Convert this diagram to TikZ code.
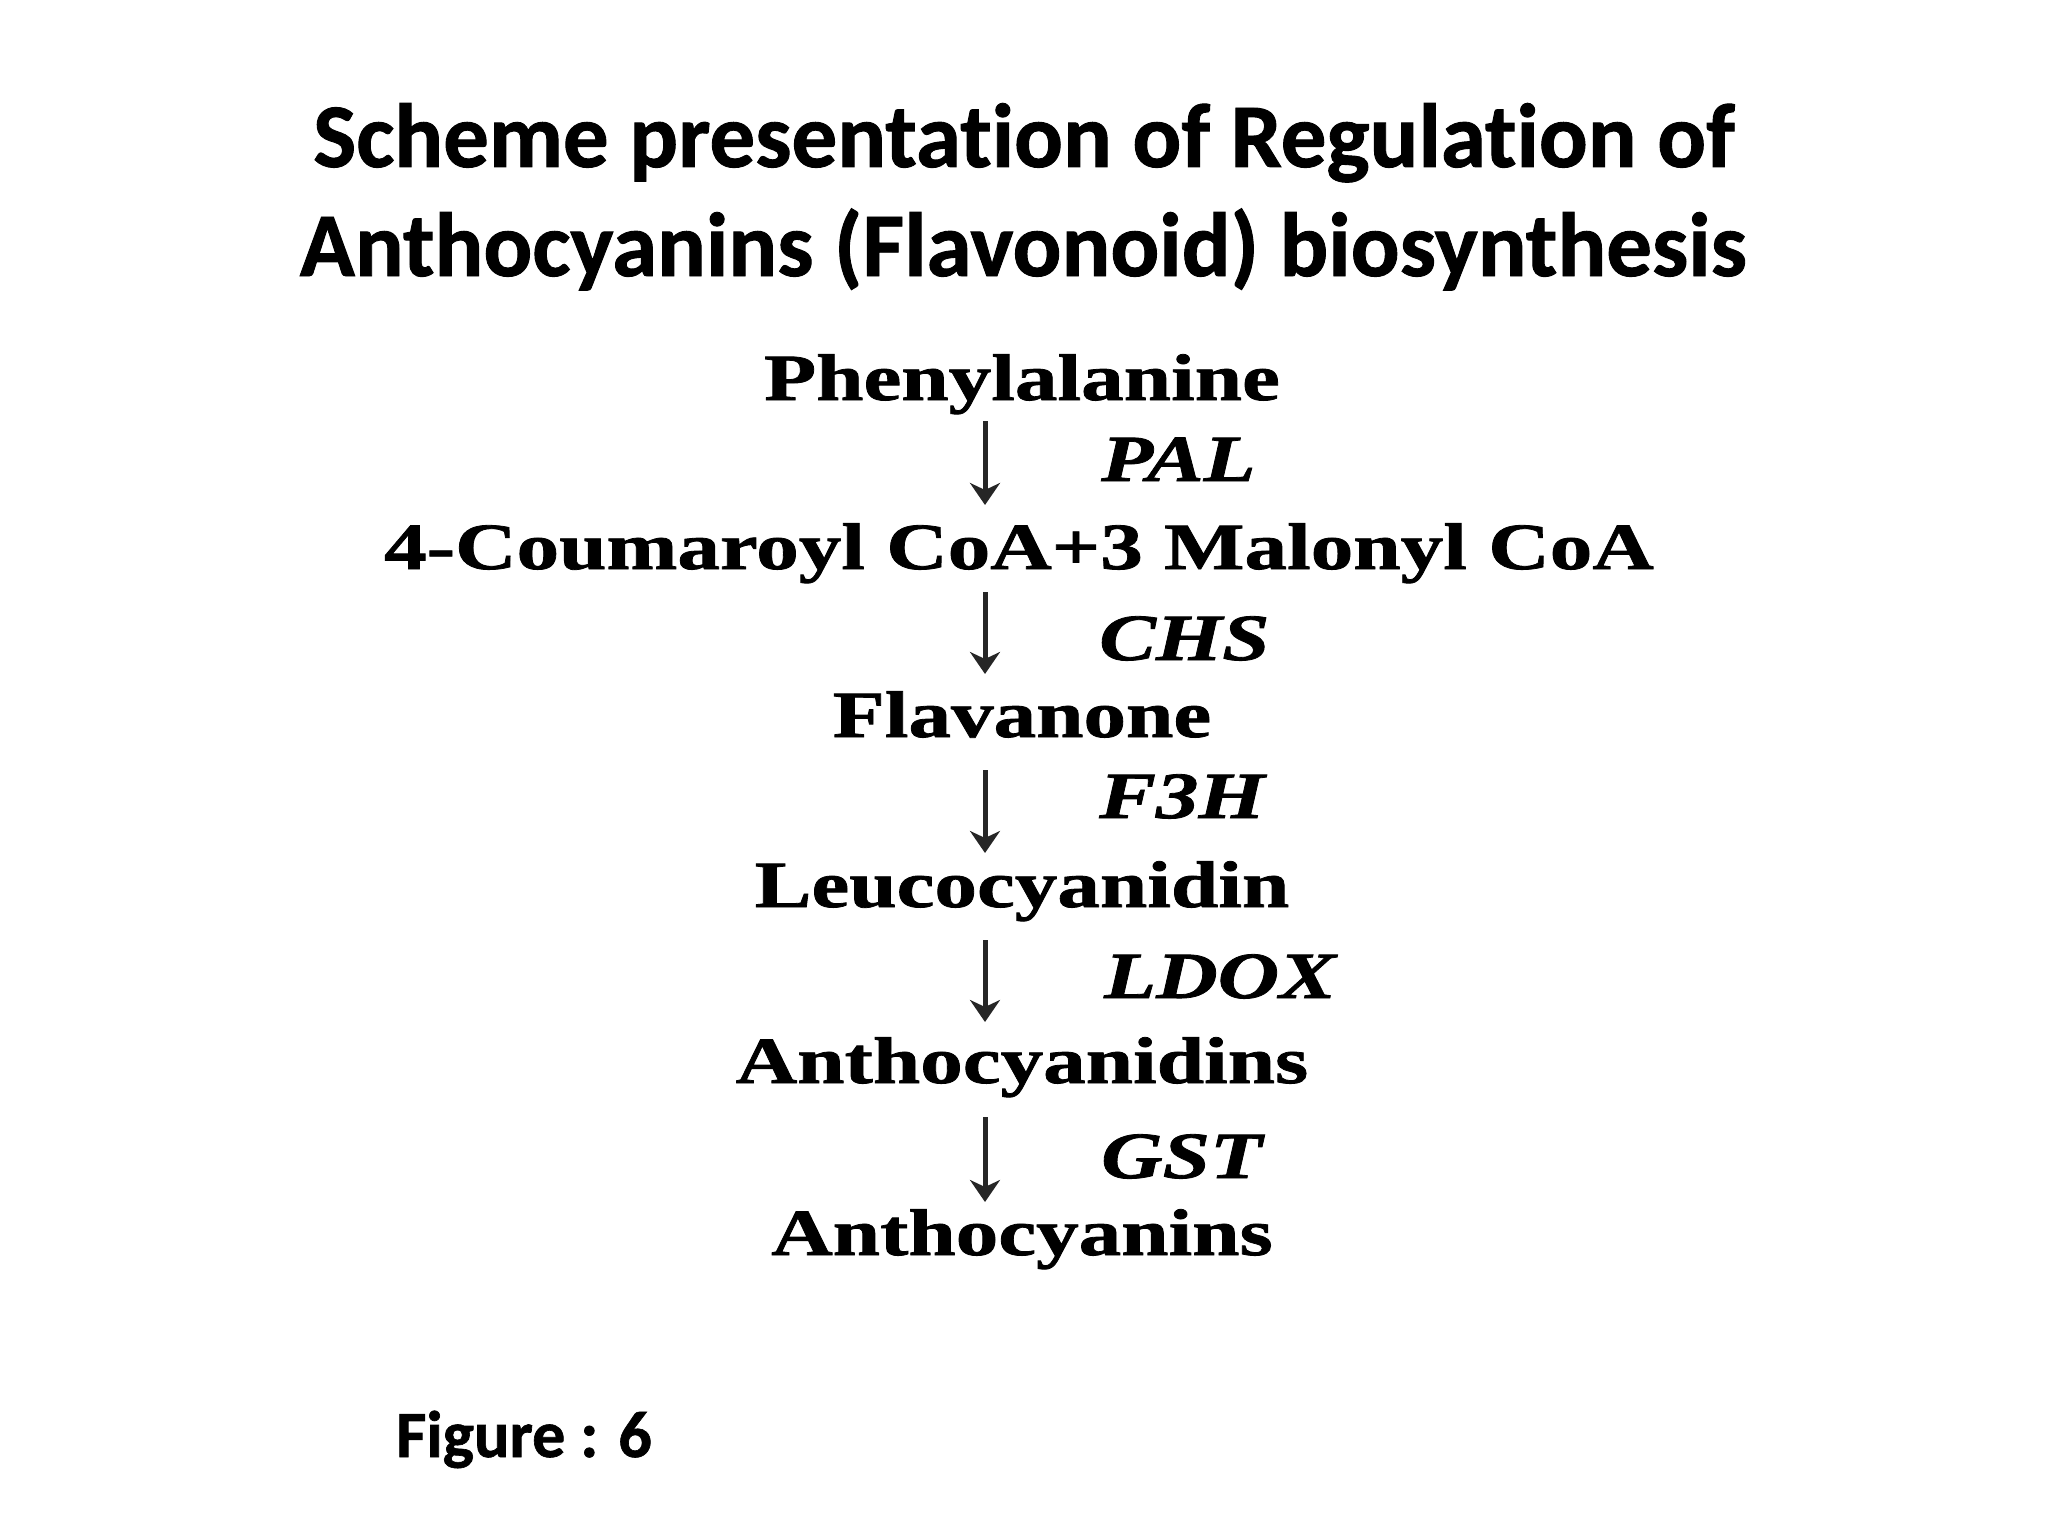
\documentclass[tikz,border=0pt]{standalone}
\usepackage{fontspec}
\usetikzlibrary{arrows.meta}
\setmainfont{Carlito}[Ligatures=NoCommon, BoldFeatures={FakeBold=1}]
\newfontfamily\pathfont[FakeStretch=1.29, BoldFeatures={FakeBold=1.2}, BoldItalicFeatures={FakeBold=1.2}]{Liberation Serif}
\tikzset{
  titletext/.style={font=\fontsize{91}{110}\selectfont\bfseries, anchor=base, inner sep=0pt},
  compound/.style={font=\pathfont\fontsize{66}{70}\selectfont\bfseries, anchor=base, inner sep=0pt},
  enzyme/.style={font=\pathfont\fontsize{66}{70}\selectfont\bfseries\itshape, anchor=base west, inner sep=0pt},
  figlabel/.style={font=\fontsize{66}{70}\selectfont\bfseries, anchor=base west, inner sep=0pt},
  steparrow/.style={line width=5pt, draw=black!85, -{Stealth[length=22pt,width=30pt,inset=7pt]}}
}
\begin{document}
\begin{tikzpicture}[x=1pt,y=-1pt]
\useasboundingbox[fill=white] (0,0) rectangle (2048,1536);
\node[titletext] (t1) at (1024,167) {Scheme presentation of Regulation of};
\node[titletext] (t2) at (1023,276) {Anthocyanins (Flavonoid) biosynthesis};
\node[compound] (c1) at (1022,400) {Phenylalanine};
\node[compound] (c2) at (1019,569) {4-Coumaroyl CoA+3 Malonyl CoA};
\node[compound] (c3) at (1022,737) {Flavanone};
\node[compound] (c4) at (1022,907) {Leucocyanidin};
\node[compound] (c5) at (1022,1083) {Anthocyanidins};
\node[compound] (c6) at (1022,1255) {Anthocyanins};
\coordinate (a1s) at (985,421); \coordinate (a1e) at (985,505);
\coordinate (a2s) at (985,592); \coordinate (a2e) at (985,674);
\coordinate (a3s) at (985,770); \coordinate (a3e) at (985,853);
\coordinate (a4s) at (985,940); \coordinate (a4e) at (985,1022);
\coordinate (a5s) at (985,1117); \coordinate (a5e) at (985,1202);
\draw[steparrow] (a1s) -- (a1e);
\draw[steparrow] (a2s) -- (a2e);
\draw[steparrow] (a3s) -- (a3e);
\draw[steparrow] (a4s) -- (a4e);
\draw[steparrow] (a5s) -- (a5e);
\node[enzyme] (e1) at (1101,481) {PAL};
\node[enzyme] (e2) at (1099,660) {CHS};
\node[enzyme] (e3) at (1099,818) {F3H};
\node[enzyme] (e4) at (1104,998) {LDOX};
\node[enzyme] (e5) at (1101,1178) {GST};
\node[figlabel] (fig) at (396,1457) {Figure : 6};
\end{tikzpicture}
\end{document}
